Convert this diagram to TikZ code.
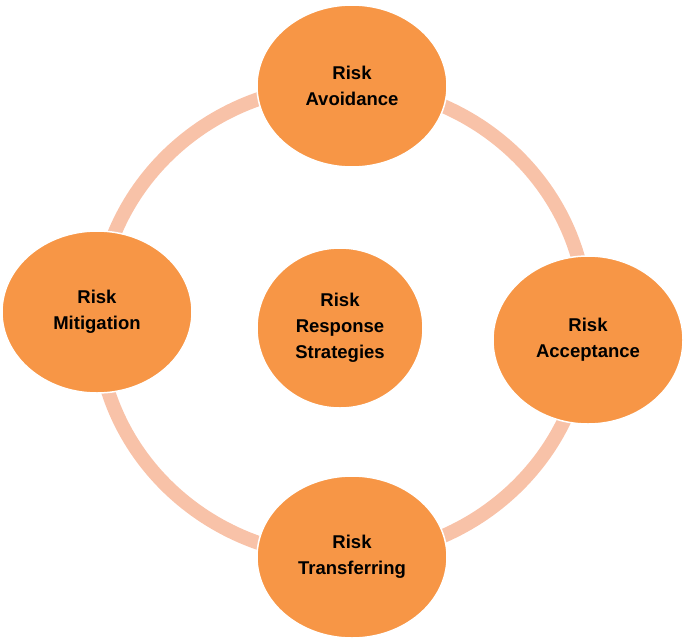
\documentclass[tikz,border=0pt]{standalone}
\usepackage{fontspec}
\setmainfont{Liberation Sans}
\usetikzlibrary{shapes.geometric}
\definecolor{orng}{HTML}{F79646}
\definecolor{ring}{HTML}{F8C2A8}
\begin{document}
\begin{tikzpicture}[x=1pt,y=-1pt,
  bubble/.style={ellipse,fill=orng,draw=white,line width=1.5pt,minimum width=#1,align=center,font=\bfseries\fontsize{18.5}{26}\selectfont,text=black,inner sep=0pt},
  bubble/.default=190pt]
\useasboundingbox (0,0) rectangle (685,640);
\draw[ring,line width=14pt] (342,321) ellipse [x radius=245, y radius=236];
\node[bubble,minimum height=162pt] (top) at (352,86) {Risk\\Avoidance};
\node[bubble,minimum height=162pt] (left) at (97,312) {Risk\\Mitigation};
\node[bubble,minimum height=168pt] (right) at (588,340) {Risk\\Acceptance};
\node[bubble,minimum height=162pt] (bottom) at (352,557) {Risk\\Transferring};
\node[bubble=166pt,minimum height=160pt] (center) at (340,328) {Risk\\Response\\Strategies};
\end{tikzpicture}
\end{document}
